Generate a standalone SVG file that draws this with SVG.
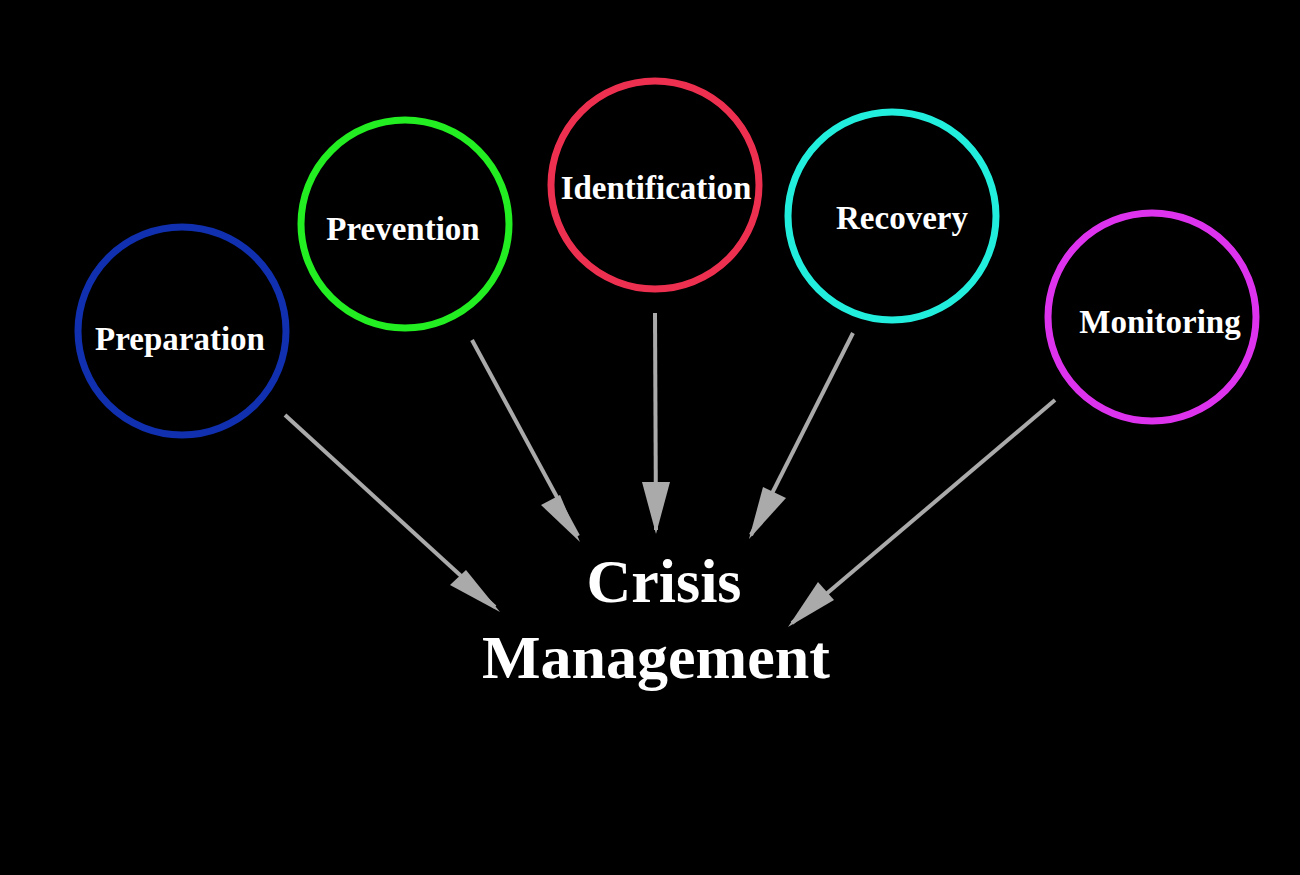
<svg xmlns="http://www.w3.org/2000/svg" width="1300" height="875" viewBox="0 0 1300 875">
<style>
.n{fill:none;stroke-width:7}
.t{fill:#fff;font-family:"Liberation Serif",serif;font-weight:bold;font-size:33px;text-anchor:middle}
.big{fill:#fff;font-family:"Liberation Serif",serif;font-weight:bold;font-size:62px;text-anchor:middle}
.c{stroke:#aaa;stroke-width:4;fill:none}
.h{fill:#aaa}
</style>
<rect width="1300" height="875" fill="#000"/>
<g id="connectors">
<line class="c" x1="285" y1="415" x2="495" y2="607"/>
<path class="h" d="M500,612L450,585L466,570z"/>
<line class="c" x1="472" y1="340" x2="578" y2="536"/>
<path class="h" d="M580,542L541,505L560,495z"/>
<line class="c" x1="655" y1="313" x2="656" y2="530"/>
<path class="h" d="M656,534L642,482L670,482z"/>
<line class="c" x1="853" y1="333" x2="751" y2="535"/>
<path class="h" d="M749,539L763,487L786,498z"/>
<line class="c" x1="1055" y1="400" x2="792" y2="623"/>
<path class="h" d="M788,627L818,582L834,600z"/>
</g>
<g id="preparation"><circle class="n" cx="182" cy="331" r="104" stroke="#1030b0"/><text class="t" x="180" y="350">Preparation</text></g>
<g id="prevention"><circle class="n" cx="405" cy="224" r="104" stroke="#22ee22"/><text class="t" x="403" y="240">Prevention</text></g>
<g id="identification"><circle class="n" cx="655" cy="185" r="104" stroke="#ee3050"/><text class="t" x="656" y="199">Identification</text></g>
<g id="recovery"><circle class="n" cx="892" cy="216" r="104" stroke="#22eedd"/><text class="t" x="902" y="229">Recovery</text></g>
<g id="monitoring"><circle class="n" cx="1152" cy="317" r="104" stroke="#dd33ee"/><text class="t" x="1160" y="333">Monitoring</text></g>
<g id="center"><text class="big" x="664" y="602">Crisis</text><text class="big" x="656" y="678">Management</text></g>
</svg>
